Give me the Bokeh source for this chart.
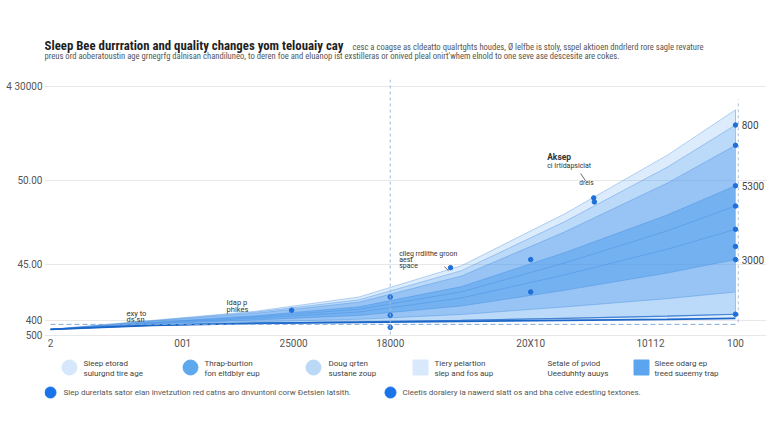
from bokeh.plotting import figure
from bokeh.layouts import column
from bokeh.models import Range1d, FixedTicker, Span, ColumnDataSource
from bokeh.core.properties import value
from bokeh.embed import file_html
from bokeh.resources import INLINE

# ---------------- data ----------------
x = [0, 15, 30, 45, 60, 75, 90, 100]
band_bottom = [13, 17, 19, 20, 21, 22, 23, 24]
edge9 = [13, 17.1, 19.2, 20.5, 22, 24, 26.1, 28]
edge8 = [13, 17.6, 20.5, 23, 27.8, 35.2, 43.4, 50]
edge7 = [13, 18.4, 22.4, 26.8, 36.2, 51.6, 68.7, 82]
edge6 = [13, 19.1, 24.1, 30.2, 44.1, 66.8, 92.2, 112]
edge5 = [13, 19.7, 25.5, 32.9, 50.1, 78.6, 110.3, 135]
edge4 = [13, 20.2, 26.6, 35.3, 55.3, 88.8, 126, 155]
edge3 = [13, 21.2, 29, 39.9, 65.8, 109.2, 157.5, 195]
edge2 = [13, 21.6, 30.1, 42.2, 71.1, 119.3, 173.2, 215]
band_top = [13, 22, 31, 45, 76, 127, 185, 230]

dot_x = [100, 100, 100, 100, 100, 100, 100, 100, 79.3, 79.4, 70.1, 70.1, 49.6, 49.6, 49.6, 35.2, 58.4]
dot_y = [215, 195, 155, 135, 112, 95, 82, 28, 143, 139, 82, 50, 45, 27, 15, 32, 74]

x_ticks = [0, 19.3, 35.5, 49.6, 70.1, 87.6, 100]
x_labels = ["2", "001", "25000", "18000", "20X10", "10112", "100"]
y_ticks = [7, 22, 77, 160, 253]
y_labels = ["500", "400", "45.00", "50.00", "4 30000"]

right_labels = ["800", "5300", "3000"]
right_label_y = [215, 155, 82]

ann_text = ["Aksep", "ci Irtidapsiclat", "dreis",
            "clleg rrdlithe groon", "aest", "space",
            "Idap p", "phikes", "exy to", "ds.sn"]
ann_x = [72.5, 72.5, 77.2, 50.9, 50.9, 50.9, 25.7, 25.7, 11.1, 11.1]
ann_y = [183, 175, 158, 88, 82, 76, 40, 33, 29, 23]

title_main = "Sleep Bee durrration and quality changes yom telouaiy cay"
title_tail = "cesc a coagse as cldeatto qualrtghts houdes, \u00d8 lelfbe is stoly, sspel aktioen dndrlerd rore sagle revature"
subtitle = ("preus ord aoberatoustin age grnegrfg dalnisan chandiluneo, to deren foe and eluanop ist "
            "exstilleras or onived pleal onirt'whem elnold to one seve ase descesite are cokes.")

legend_line1 = ["Sleep etorad", "Thrap-burtion", "Doug qrten", "Tiery pelartion", "Setale of pviod", "Sleee odarg ep"]
legend_line2 = ["sulurgnd tire age", "fon eltdbiyr eup", "sustane zoup", "slep and fos aup", "Ueeduhhty auuys", "treed sueemy trap"]
legend_icon = ["circle", "circle", "circle", "square", None, "square"]
legend_color = ["#d6e7fb", "#5ea8ee", "#bcd8f7", "#d8e9fb", None, "#5aa5ee"]
legend_note = ["Slep durerlats sator elan invetzution red catns aro dnvuntonl corw \u00d0etsien latsith.",
               "Cleetis doralery ia nawerd slatt os and bha celve edesting textones."]

FONT = "Roboto, 'Liberation Sans', sans-serif"
NARROW = "'Liberation Sans Narrow', 'Roboto Condensed', Roboto, sans-serif"

LEFT = 44
RIGHT = 766

def bare(fig):
    fig.grid.visible = False
    fig.outline_line_color = None
    fig.min_border_left = LEFT
    fig.min_border_right = 768 - RIGHT
    fig.min_border_top = 0
    fig.min_border_bottom = 0
    fig.background_fill_color = "white"
    fig.border_fill_color = "white"

# ---------------- header ----------------
hdr = figure(width=768, height=75, x_range=Range1d(LEFT, RIGHT), y_range=Range1d(75, 0),
             output_backend="svg", toolbar_location=None, x_axis_type=None, y_axis_type=None)
bare(hdr)
hdr.text(x=[44], y=[45], text=[title_main], text_font=value(NARROW), text_font_style="bold",
         text_font_size="12.8px", text_color="#1f1f1f", text_baseline="middle")
hdr.text(x=[352], y=[46], text=[title_tail], text_font=value(NARROW),
         text_font_size="8.6px", text_color="#555555", text_baseline="middle")
hdr.text(x=[44], y=[55.5], text=[subtitle], text_font=value(NARROW),
         text_font_size="8.6px", text_color="#555555", text_baseline="middle")

# ---------------- main chart ----------------
p = figure(width=768, height=280, x_range=Range1d((LEFT - 50) / 6.85, (RIGHT - 50) / 6.85),
           y_range=Range1d(6, 260),
           output_backend="svg", toolbar_location=None)
p.min_border_left = LEFT
p.min_border_right = 768 - RIGHT
p.min_border_top = 4
p.min_border_bottom = 19
p.outline_line_color = None
p.background_fill_color = "white"
p.border_fill_color = "white"

p.xgrid.visible = False
p.ygrid.ticker = FixedTicker(ticks=y_ticks)
p.ygrid.grid_line_color = "#e8e8e8"

p.xaxis.ticker = FixedTicker(ticks=x_ticks)
p.xaxis.major_label_overrides = {t: l for t, l in zip(x_ticks, x_labels)}
p.yaxis.ticker = FixedTicker(ticks=y_ticks)
p.yaxis.major_label_overrides = {t: l for t, l in zip(y_ticks, y_labels)}
for ax in (p.xaxis, p.yaxis):
    ax.axis_line_color = None
    ax.major_tick_line_color = None
    ax.minor_tick_line_color = None
    ax.major_tick_out = 0
    ax.major_tick_in = 0
    ax.major_label_text_font = FONT
    ax.major_label_text_font_size = "10px"
    ax.major_label_text_color = "#555555"
p.xaxis.major_label_standoff = 1
p.yaxis.major_label_standoff = 2

src = ColumnDataSource(dict(x=x, b=band_bottom, e9=edge9, e8=edge8, e7=edge7, e6=edge6,
                            e5=edge5, e4=edge4, e3=edge3, e2=edge2, t=band_top))

# nested fan bands
for lo, hi, a in [("b", "t", 0.18), ("e9", "e2", 0.22), ("e8", "e3", 0.3), ("e7", "e4", 0.42)]:
    p.varea(x="x", y1=lo, y2=hi, source=src, fill_color="#4596ec", fill_alpha=a)

for col in ["t", "e2", "e3", "e4", "e5", "e6", "e7", "e8", "e9"]:
    p.line(x="x", y=col, source=src, line_color="#3a86de", line_alpha=0.45, line_width=0.8)
p.line(x="x", y="b", source=src, line_color="#1b66c9", line_width=1.8)
p.line(x="x", y="e9", source=src, line_color="#1b66c9", line_alpha=0.7, line_width=1.2)

# reference lines
p.add_layout(Span(location=49.6, dimension="height", line_color="#9dbbe0",
                  line_dash="3 3", line_width=1))
p.segment(x0=[0], y0=[18], x1=[100.4], y1=[18], line_color="#7ea9da", line_dash="5 3", line_width=1)
p.segment(x0=[100.4], y0=[20], x1=[100.4], y1=[240], line_color="#a8c0dc", line_dash="3 3", line_width=1)
p.segment(x0=[100], y0=[24], x1=[100], y1=[230], line_color="#9cc3ee", line_width=1)

# points
p.scatter(x=dot_x, y=dot_y, size=4.5, fill_color="#1f6fd9", line_color="#1f6fd9")

# right-edge labels
p.text(x=[100.9] * len(right_labels), y=right_label_y, text=right_labels, text_font=value(FONT),
       text_font_size="10px", text_color="#444444", text_baseline="middle")

# annotations
styles = ["bold"] + ["normal"] * 9
sizes = ["8.5px", "7px", "6.5px", "7px", "7px", "7px", "7.5px", "7.5px", "7.5px", "7.5px"]
ann_src = ColumnDataSource(dict(x=ann_x, y=ann_y, text=ann_text, st=styles, sz=sizes))
p.text(x="x", y="y", text="text", source=ann_src, text_font=value(FONT), text_font_style="st",
       text_font_size="sz", text_color="#333333", text_baseline="middle")
p.segment(x0=[77.4, 57.5], y0=[167, 75], x1=[78.1, 58.1], y1=[160, 71], line_color="#444444", line_width=0.8)

# ---------------- legend ----------------
leg = figure(width=768, height=84, x_range=Range1d(LEFT, RIGHT), y_range=Range1d(84, 0),
             output_backend="svg", toolbar_location=None, x_axis_type=None, y_axis_type=None)
bare(leg)
icon_x = [69, 190, 313, 420, 548, 641]
text_x = [83, 204, 328, 434, 547, 654]
for ix, tx, icon, colr, l1, l2 in zip(icon_x, text_x, legend_icon, legend_color, legend_line1, legend_line2):
    if icon is not None:
        leg.scatter(x=[ix], y=[12], marker=icon, size=15, fill_color=colr, line_color=colr)
    leg.text(x=[tx, tx], y=[8, 18], text=[l1, l2], text_font=value(FONT), text_font_size="8px",
             text_color="#444444", text_baseline="middle")
leg.scatter(x=[50, 390], y=[37, 37], size=11, fill_color="#1a73e8", line_color="#1a73e8")
leg.text(x=[63, 402], y=[37, 37], text=legend_note, text_font=value(FONT), text_font_size="8px",
         text_color="#555555", text_baseline="middle")

layout = column(hdr, p, leg, spacing=0)
open("out.html", "w").write(file_html(layout, INLINE))
